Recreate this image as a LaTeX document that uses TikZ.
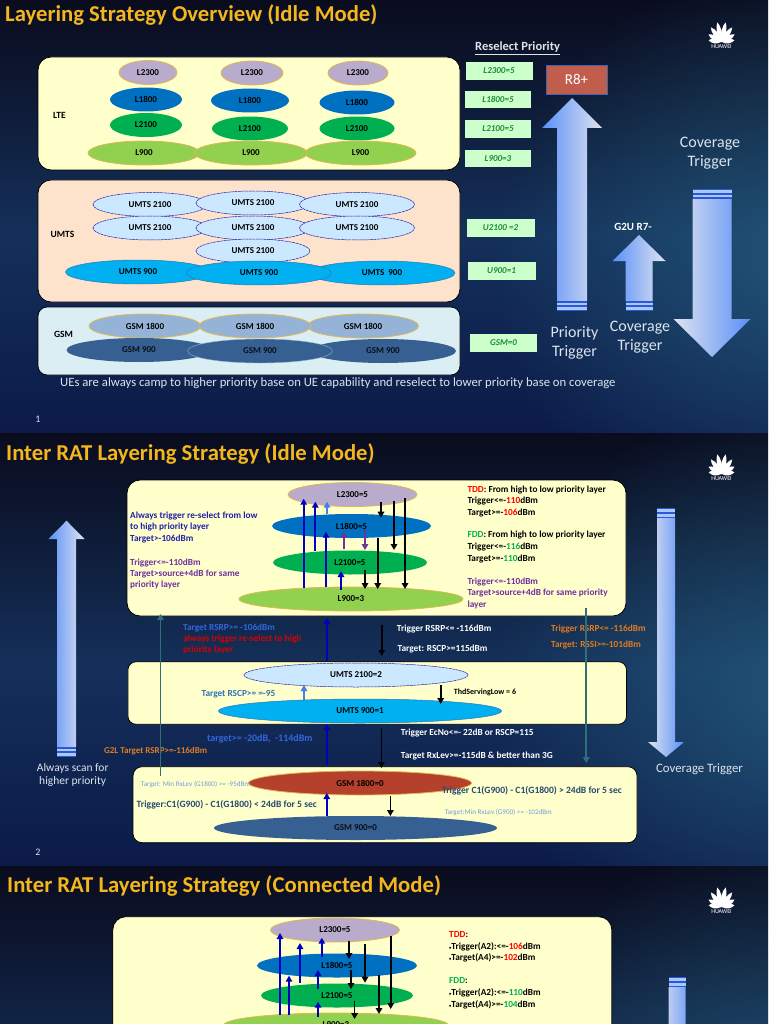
\documentclass[tikz,border=0pt]{standalone}
\usepackage{fontspec}
\setmainfont{Carlito}
\usetikzlibrary{shapes.geometric,arrows.meta,fadings}

\definecolor{bgtop}{HTML}{0A0C1E}
\definecolor{bgmid}{HTML}{14305A}
\definecolor{bgbot}{HTML}{0C1A48}
\definecolor{glowc}{HTML}{2A6A88}
\definecolor{titlec}{HTML}{F3B61C}
\definecolor{cream}{HTML}{FFFFCC}
\definecolor{peach}{HTML}{FDE3CC}
\definecolor{icey}{HTML}{DAEEF3}
\definecolor{gold}{HTML}{E0B850}
\definecolor{violet}{HTML}{B9ABCB}
\definecolor{lblue}{HTML}{0070C0}
\definecolor{lgreen}{HTML}{00B050}
\definecolor{lime}{HTML}{92D050}
\definecolor{upale}{HTML}{CCE8FF}
\definecolor{ucyan}{HTML}{00B0F0}
\definecolor{gpale}{HTML}{95B3D7}
\definecolor{gdeep}{HTML}{366092}
\definecolor{gred}{HTML}{B5402C}
\definecolor{mint}{HTML}{CCFFCC}
\definecolor{mintink}{HTML}{1E8C32}
\definecolor{softw}{HTML}{DCE4EC}
\definecolor{navy}{HTML}{0000C0}
\definecolor{skyb}{HTML}{4A7DE8}
\definecolor{purp}{HTML}{7030A0}
\definecolor{inkb}{HTML}{2020A8}
\definecolor{orng}{HTML}{E07B20}
\definecolor{teal2}{HTML}{2F6F78}
\definecolor{midb}{HTML}{3366DD}
\definecolor{steel}{HTML}{2E75B6}
\definecolor{slate}{HTML}{244A70}
\definecolor{faint}{HTML}{6F9FD8}
\definecolor{arleft}{HTML}{5A90F8}
\definecolor{armid}{HTML}{90C0FF}
\definecolor{arright}{HTML}{DFE3EF}
\definecolor{stripe}{HTML}{2C58D8}
\definecolor{band}{HTML}{A9C9FB}

\pgfdeclareverticalshading{slideshade}{100bp}{color(0bp)=(bgbot); color(25bp)=(bgbot); color(48bp)=(bgmid); color(66bp)=(bgtop!70!bgmid); color(75bp)=(bgtop); color(100bp)=(bgtop)}
\tikzfading[name=glowfade, inner color=transparent!40, outer color=transparent!100]

\newcommand{\SlideBg}[1]{
\shade[shading=slideshade] (0,#1) rectangle (768,#1+432.5);
\begin{scope}
\clip (0,#1) rectangle (768,#1+432.5);
\fill[glowc, path fading=glowfade] (790,#1+265) circle (300);
\end{scope}
}
\newcommand{\UpBlock}[6]{
\shade[left color=arleft, middle color=armid, right color=arright] (#1,#2) -- (#1+#3,#4) -- (#1+#5,#4) -- (#1+#5,#6-10) -- (#1-#5,#6-10) -- (#1-#5,#4) -- (#1-#3,#4) -- cycle;
\fill[stripe] (#1-#5,#6-10) rectangle (#1+#5,#6);
\fill[band] (#1-#5,#6-8.5) rectangle (#1+#5,#6-6);
\fill[band] (#1-#5,#6-4) rectangle (#1+#5,#6-1);
}
\newcommand{\DownBlock}[6]{
\shade[left color=arright, middle color=armid, right color=arleft] (#1,#2) -- (#1+#3,#4) -- (#1+#5,#4) -- (#1+#5,#6+10) -- (#1-#5,#6+10) -- (#1-#5,#4) -- (#1-#3,#4) -- cycle;
\fill[stripe] (#1-#5,#6) rectangle (#1+#5,#6+10);
\fill[band] (#1-#5,#6+1) rectangle (#1+#5,#6+4);
\fill[band] (#1-#5,#6+6) rectangle (#1+#5,#6+8.5);
}
\newcommand{\HuaLogo}[3]{
\begin{scope}[shift={(#1,#2)}]
\foreach \a/\l in {-82/13,-60/15,-36/18,-12/20,12/20,36/18,60/15,82/13}
  \fill[white, rotate=\a] (0,0) .. controls (-3.6,-\l*0.4) and (-2.6,-\l*0.8) .. (0,-\l) .. controls (2.6,-\l*0.8) and (3.6,-\l*0.4) .. (0,0);
\node[text=white, font=\fontsize{6}{7}\selectfont] (#3) at (0,5) {HUAWEI};
\end{scope}
}
\newcommand{\Dotb}{{\fontsize{4.5}{5}\selectfont\textbullet}}

\tikzset{
  titletxt/.style={anchor=west, text=titlec, font=\bfseries\fontsize{22.7}{25}\selectfont, inner sep=0pt},
  panel/.style={draw=black, line width=0.8pt, rounded corners=13pt, inner sep=0pt},
  lyr/.style={ellipse, inner sep=0pt, minimum height=24pt, text=black, font=\bfseries\fontsize{9}{10}\selectfont},
  lv/.style={lyr, fill=violet, draw=gold, line width=0.8pt},
  lb/.style={lyr, fill=lblue},
  lg/.style={lyr, fill=lgreen},
  ll/.style={lyr, fill=lime, draw=gold, line width=0.8pt},
  up/.style={lyr, fill=upale, draw=inkb, line width=0.5pt, dash pattern=on 3pt off 0.6pt},
  uc/.style={lyr, fill=ucyan, draw=steel, line width=0.5pt},
  gp/.style={lyr, fill=gpale, draw=gold, line width=0.8pt},
  gd/.style={lyr, fill=gdeep, text=black!85!gdeep},
  prio/.style={fill=mint, inner sep=0pt, text=mintink, font=\bfseries\itshape\fontsize{9}{10}\selectfont},
  rat/.style={text=black, inner sep=0pt, font=\bfseries\fontsize{9.5}{11}\selectfont},
  big/.style={text=softw, inner sep=0pt, align=center, font=\fontsize{16}{19}\selectfont},
  note/.style={anchor=west, inner sep=0pt, font=\bfseries\fontsize{9.3}{10}\selectfont},
  upn/.style={navy, line width=1.7pt, -{Triangle[length=6pt,width=6.5pt]}},
  ups/.style={skyb, line width=1.7pt, -{Triangle[length=6pt,width=6.5pt]}},
  upp/.style={purp, line width=1.7pt, -{Triangle[length=6pt,width=6.5pt]}},
  dnk/.style={black, line width=1.7pt, -{Triangle[length=6pt,width=6.5pt]}},
  tealk/.style={teal2, line width=1.8pt, -{Triangle[length=6pt,width=6.5pt]}}
}

\begin{document}
\begin{tikzpicture}[x=1pt,y=-1pt]
\useasboundingbox (0,0) rectangle (768,1024);
\clip (0,0) rectangle (768,1024);
\fill[black!85!blue] (0,0) rectangle (768,1024);
\SlideBg{0}
\SlideBg{433}
\SlideBg{866}

\node[titletxt] (title1) at (5,15.5) {Layering Strategy Overview (Idle Mode)};
\HuaLogo{721.5}{42}{logo1}

\node[panel, fill=cream, minimum width=422pt, minimum height=113pt] (lte) at (249,113.5) {};
\node[panel, fill=peach, minimum width=422pt, minimum height=122pt] (umts) at (249,241) {};
\node[panel, fill=icey, minimum width=422pt, minimum height=68pt, rounded corners=9pt] (gsm) at (249,341) {};
\node[rat] (ltetxt) at (59.5,115) {LTE};
\node[rat] (umtstxt) at (62.5,234) {UMTS};
\node[rat] (gsmtxt) at (63.5,334) {GSM};

\node[lv, minimum width=58pt] (a2300) at (148,72.5) {L2300};
\node[lv, minimum width=62pt] (b2300) at (252,73) {L2300};
\node[lv, minimum width=60pt] (c2300) at (358,73) {L2300};
\node[lb, minimum width=72pt] (a1800) at (146,99.5) {L1800};
\node[lb, minimum width=78pt] (b1800) at (250,100.5) {L1800};
\node[lb, minimum width=75pt] (c1800) at (357,102.5) {L1800};
\node[lg, minimum width=72pt] (a2100) at (146,125) {L2100};
\node[lg, minimum width=76pt] (b2100) at (250,128.5) {L2100};
\node[lg, minimum width=75pt] (c2100) at (357,128.5) {L2100};
\node[ll, minimum width=112pt] (a900) at (144,153) {L900};
\node[ll, minimum width=111pt] (c900) at (360.5,153) {L900};
\node[ll, minimum width=113pt] (b900) at (251,153) {L900};

\node[up, minimum width=114pt] (ua1) at (150,204.5) {UMTS 2100};
\node[up, minimum width=114pt] (ub1) at (253,203) {UMTS 2100};
\node[up, minimum width=115pt] (uc1) at (357,204.5) {UMTS 2100};
\node[up, minimum width=114pt] (ua2) at (150,228) {UMTS 2100};
\node[up, minimum width=114pt] (ub2) at (253,228) {UMTS 2100};
\node[up, minimum width=115pt] (uc2) at (357,228) {UMTS 2100};
\node[up, minimum width=114pt] (ub3) at (253,251) {UMTS 2100};
\node[uc, minimum width=145pt] (ua9) at (138,272) {UMTS 900};
\node[uc, minimum width=146pt] (uc9) at (382,273) {UMTS\ \ 900};
\node[uc, minimum width=145pt] (ub9) at (259,273) {UMTS 900};

\node[gp, minimum width=112pt] (ga18) at (145,326) {GSM 1800};
\node[gp, minimum width=111pt] (gc18) at (363,326) {GSM 1800};
\node[gp, minimum width=112pt] (gb18) at (255,326) {GSM 1800};
\node[gd, minimum width=145pt] (ga9) at (139,350) {GSM 900};
\node[gd, minimum width=146pt] (gc9) at (383,351) {GSM 900};
\node[gd, minimum width=145pt, draw=gpale, line width=0.4pt] (gb9) at (260,351) {GSM 900};

\node[anchor=west, inner sep=0pt, text=softw, font=\bfseries\fontsize{12.5}{14}\selectfont] (reselhd) at (475,48) {\underline{Reselect Priority}};
\node[prio, minimum width=67pt, minimum height=18pt] (p2300) at (499,71) {L2300=5};
\node[prio, minimum width=66.5pt, minimum height=17.5pt] (p1800) at (498,99.5) {L1800=5};
\node[prio, minimum width=66.5pt, minimum height=18pt] (p2100) at (498,129) {L2100=5};
\node[prio, minimum width=66.5pt, minimum height=17.5pt] (p900) at (498,158.5) {L900=3};
\node[prio, minimum width=68pt, minimum height=18pt] (pu21) at (500.5,228) {U2100 =2};
\node[prio, minimum width=68pt, minimum height=18pt] (pu9) at (501.5,271) {U900=1};
\node[prio, minimum width=67pt, minimum height=18pt] (pg) at (503.5,343) {GSM=0};

\node[fill=gred!85!white, draw=arleft!70!black, line width=0.8pt, minimum width=61pt, minimum height=29pt, inner sep=0pt, text=white, font=\fontsize{15}{17}\selectfont] (r8) at (576.5,79.5) {R8+};
\UpBlock{572}{98}{30}{128}{15}{311}
\UpBlock{639}{235}{26.5}{261}{13.5}{311}
\DownBlock{712}{357}{38.5}{319}{19.5}{189}
\node[big] (prtrg) at (574.5,343) {Priority\\Trigger};
\node[big] (cvtrg) at (640,337.5) {Coverage\\Trigger};
\node[big] (cvtrg2) at (710,153) {Coverage\\Trigger};
\node[inner sep=0pt, text=white, font=\bfseries\fontsize{11}{13}\selectfont] (g2u) at (633,227) {G2U R7-};
\node[anchor=west, inner sep=0pt, text=softw, font=\fontsize{12.7}{15}\selectfont] (uesline) at (60,383.5) {UEs are always camp to higher priority base on UE capability and reselect to lower priority base on coverage};
\node[text=softw, inner sep=0pt, font=\fontsize{10}{12}\selectfont] (num1) at (38,419) {1};

\node[titletxt] (title2) at (6,454) {Inter RAT Layering Strategy (Idle Mode)};
\HuaLogo{721.5}{474}{logo2}

\node[panel, fill=cream, minimum width=499pt, minimum height=136pt] (top2) at (376.5,548) {};
\node[panel, fill=cream, minimum width=498.5pt, minimum height=62.5pt, rounded corners=8pt] (mid2) at (377.2,693) {};
\node[panel, fill=cream, minimum width=504pt, minimum height=76pt, rounded corners=9pt] (bot2) at (385,804.7) {};

\node[lv, minimum width=129pt] (i2300) at (352.5,494.5) {L2300=5};
\node[lb, minimum width=159pt] (i1800) at (351.5,526) {L1800=5};
\node[lg, minimum width=154pt] (i2100) at (350,562.5) {L2100=5};
\node[ll, minimum width=224pt] (i900) at (351,599) {L900=3};

\coordinate (a1s) at (303.7,587.7); \coordinate (a1e) at (303.7,498.7); \draw[upn] (a1s) -- (a1e);
\coordinate (a2s) at (315.3,551); \coordinate (a2e) at (315.3,501.7); \draw[upn] (a2s) -- (a2e);
\coordinate (a3s) at (327,514); \coordinate (a3e) at (327,501.7); \draw[ups] (a3s) -- (a3e);
\coordinate (a4s) at (326,586.7); \coordinate (a4e) at (326,531.7); \draw[upn] (a4s) -- (a4e);
\coordinate (a5s) at (341,590); \coordinate (a5e) at (341,571); \draw[upn] (a5s) -- (a5e);
\coordinate (a6s) at (344,549); \coordinate (a6e) at (344,531.7); \draw[upp] (a6s) -- (a6e);
\coordinate (a7s) at (365,530); \coordinate (a7e) at (365,550); \draw[upp] (a7s) -- (a7e);
\coordinate (a8s) at (381,501.7); \coordinate (a8e) at (381,517.7); \draw[dnk] (a8s) -- (a8e);
\coordinate (a9s) at (394,500.7); \coordinate (a9e) at (394,550); \draw[dnk] (a9s) -- (a9e);
\coordinate (a10s) at (405,498); \coordinate (a10e) at (405,589); \draw[dnk] (a10s) -- (a10e);
\coordinate (a11s) at (377.7,537.7); \coordinate (a11e) at (377.7,589); \draw[dnk] (a11s) -- (a11e);
\coordinate (a12s) at (365,570); \coordinate (a12e) at (365,589); \draw[dnk] (a12s) -- (a12e);

\node[note, text=inkb] (lt1) at (130,515.7) {Always trigger re-select from low};
\node[note, text=inkb] (lt2) at (130,527) {to high priority layer};
\node[note, text=inkb] (lt3) at (130,539) {Target>-106dBm};
\node[note, text=purp] (lt4) at (130,562.7) {Trigger<=-110dBm};
\node[note, text=purp] (lt5) at (130,573.7) {Target>source+4dB for same};
\node[note, text=purp] (lt6) at (130,585) {priority layer};
\node[note] (rt1) at (467.3,490) {{\color{red}TDD}: From high to low priority layer};
\node[note] (rt2) at (467.3,501) {Trigger<=-{\color{red}110}dBm};
\node[note] (rt3) at (467.3,512.7) {Target>=-{\color{red}106}dBm};
\node[note] (rt4) at (467.3,535) {{\color{lgreen}FDD}: From high to low priority layer};
\node[note] (rt5) at (467.3,547) {Trigger<=-{\color{lgreen}116}dBm};
\node[note] (rt6) at (467.3,558.7) {Target>=-{\color{lgreen}110}dBm};
\node[note, text=purp] (rt7) at (467.3,581.7) {Trigger<=-110dBm};
\node[note, text=purp] (rt8) at (467.3,593) {Target>source+4dB for same priority};
\node[note, text=purp] (rt9) at (467.3,605) {layer};

\node[note, text=midb] (bt1) at (183,628) {Target RSRP>= -106dBm};
\node[note, text=red!85!black] (bt2) at (183,639) {always trigger re-select to high};
\node[note, text=red!85!black] (bt3) at (183,650) {priority layer};
\node[note, text=white] (bt4) at (396.7,629) {Trigger RSRP<= -116dBm};
\node[note, text=white] (bt5) at (397.5,648.7) {Target: RSCP>=115dBm};
\node[note, text=orng] (bt6) at (551,629) {Trigger RSRP<= -116dBm};
\node[note, text=orng] (bt7) at (551,645) {Target: RSSI>=-101dBm};
\coordinate (b1s) at (327,661); \coordinate (b1e) at (327,618); \draw[upn] (b1s) -- (b1e);
\coordinate (b2s) at (381.7,625); \coordinate (b2e) at (381.7,656); \draw[dnk] (b2s) -- (b2e);

\node[up, minimum width=224pt] (m21) at (356,675) {UMTS 2100=2};
\node[uc, minimum width=283pt] (m9) at (360,711) {UMTS 900=1};
\coordinate (c1s) at (304,700); \coordinate (c1e) at (304,685); \draw[ups] (c1s) -- (c1e);
\coordinate (c2s) at (440.7,685); \coordinate (c2e) at (440.7,704); \draw[dnk] (c2s) -- (c2e);
\node[note, text=steel] (mt1) at (201.4,694) {Target RSCP>= =-95};
\node[note, text=black, font=\bfseries\fontsize{8}{10}\selectfont] (mt2) at (453.6,692) {ThdServingLow = 6};

\coordinate (d1s) at (326.8,765); \coordinate (d1e) at (326.8,724); \draw[upn] (d1s) -- (d1e);
\coordinate (d2s) at (381.4,727.7); \coordinate (d2e) at (381.4,768); \draw[dnk] (d2s) -- (d2e);
\node[note, text=midb, font=\bfseries\fontsize{10}{12}\selectfont] (lw1) at (206.8,738.7) {target>= -20dB,\ \ -114dBm};
\node[note, text=orng, font=\bfseries\fontsize{9}{10}\selectfont] (lw2) at (104,750.7) {G2L Target RSRP>=-116dBm};
\node[note, text=white] (lw3) at (400.7,733) {Trigger EcNo<=- 22dB or RSCP=115};
\node[note, text=white] (lw4) at (400.7,755.7) {Target RxLev>=-115dB \& better than 3G};

\node[lyr, fill=gred, draw=gold, line width=0.8pt, minimum width=223pt] (g18) at (360,783) {GSM 1800=0};
\node[gd, minimum width=283pt] (g9) at (355.5,828) {GSM 900=0};
\coordinate (e1s) at (326.8,816); \coordinate (e1e) at (326.8,793); \draw[upn] (e1s) -- (e1e);
\coordinate (e2s) at (390.4,796); \coordinate (e2e) at (390.4,816); \draw[dnk] (e2s) -- (e2e);
\node[note, text=faint, font=\fontsize{7.1}{8}\selectfont] (gt1) at (140.7,785) {Target: Min RxLev (G1800) >= -95dBm};
\node[note, text=slate, font=\bfseries\fontsize{9.6}{11}\selectfont] (gt2) at (136.4,805) {Trigger:C1(G900) - C1(G1800) < 24dB for 5 sec};
\node[note, text=slate, font=\bfseries\fontsize{9.6}{11}\selectfont] (gt3) at (441.8,791) {Trigger C1(G900) - C1(G1800) > 24dB for 5 sec};
\node[note, text=faint, font=\fontsize{7.1}{8}\selectfont] (gt4) at (444.6,812.7) {Target:Min RxLev (G900) >= -102dBm};

\coordinate (t1s) at (160.5,776); \coordinate (t1e) at (160.5,614); \draw[tealk] (t1s) -- (t1e);
\coordinate (t2s) at (586.3,608); \coordinate (t2e) at (586.3,763); \draw[tealk] (t2s) -- (t2e);

\UpBlock{66.5}{520.7}{18}{539}{9.5}{757}
\DownBlock{666}{757}{18}{742}{9}{508}
\node[inner sep=0pt, text=softw, align=center, font=\fontsize{11.5}{13.7}\selectfont] (scan) at (72.7,775) {Always scan for\\higher priority};
\node[inner sep=0pt, text=softw, font=\fontsize{12.8}{15}\selectfont] (cvtrg3) at (699.5,769) {Coverage Trigger};
\node[text=softw, inner sep=0pt, font=\fontsize{10}{12}\selectfont] (num2) at (38,852) {2};

\node[titletxt] (title3) at (7,885.5) {Inter RAT Layering Strategy (Connected Mode)};
\HuaLogo{721.5}{907}{logo3}
\node[panel, fill=cream, minimum width=499pt, minimum height=190pt] (top3) at (362.3,1011.7) {};

\node[lv, minimum width=129pt] (k2300) at (335,930) {L2300=5};
\node[lb, minimum width=160pt] (k1800) at (337,965.5) {L1800=5};
\node[lg, minimum width=152pt] (k2100) at (337,995.5) {L2100=5};
\node[ll, minimum width=224pt] (k900) at (336,1025) {L900=3};

\coordinate (f1s) at (280,1015); \coordinate (f1e) at (280,933); \draw[upn] (f1s) -- (f1e);
\coordinate (f2s) at (289,1015); \coordinate (f2e) at (289,975.7); \draw[upn] (f2s) -- (f2e);
\coordinate (f3s) at (300,982.7); \coordinate (f3e) at (300,943); \draw[upn] (f3s) -- (f3e);
\coordinate (f4s) at (321.8,956.7); \coordinate (f4e) at (321.8,937.7); \draw[upn] (f4s) -- (f4e);
\coordinate (f5s) at (318,989); \coordinate (f5e) at (318,970); \draw[upn] (f5s) -- (f5e);
\coordinate (f6s) at (318,1017); \coordinate (f6e) at (318,1001.7); \draw[upn] (f6s) -- (f6e);
\coordinate (f7s) at (349,940.7); \coordinate (f7e) at (349,959); \draw[dnk] (f7s) -- (f7e);
\coordinate (f8s) at (365,944); \coordinate (f8e) at (365,982.7); \draw[dnk] (f8s) -- (f8e);
\coordinate (f9s) at (390.7,936); \coordinate (f9e) at (390.7,1009); \draw[dnk] (f9s) -- (f9e);
\coordinate (f10s) at (379,975); \coordinate (f10e) at (379,1014); \draw[dnk] (f10s) -- (f10e);
\coordinate (f11s) at (351,970); \coordinate (f11e) at (351,989); \draw[dnk] (f11s) -- (f11e);
\coordinate (f12s) at (354.6,1000.7); \coordinate (f12e) at (354.6,1019); \draw[dnk] (f12s) -- (f12e);

\node[note, text=red] (ct1) at (449,935) {TDD{\color{black}:}};
\node[note] (ct2) at (449,947) {\Dotb Trigger(A2):<=-{\color{red}106}dBm};
\node[note] (ct3) at (449,958) {\Dotb Target(A4)>=-{\color{red}102}dBm};
\node[note, text=lgreen] (ct4) at (449,981) {FDD{\color{black}:}};
\node[note] (ct5) at (449,992.7) {\Dotb Trigger(A2):<=-{\color{lgreen}110}dBm};
\node[note] (ct6) at (449,1004.7) {\Dotb Target(A4)>=-{\color{lgreen}104}dBm};

\DownBlock{677}{1300}{18}{1250}{8.5}{977}
\end{tikzpicture}
\end{document}
